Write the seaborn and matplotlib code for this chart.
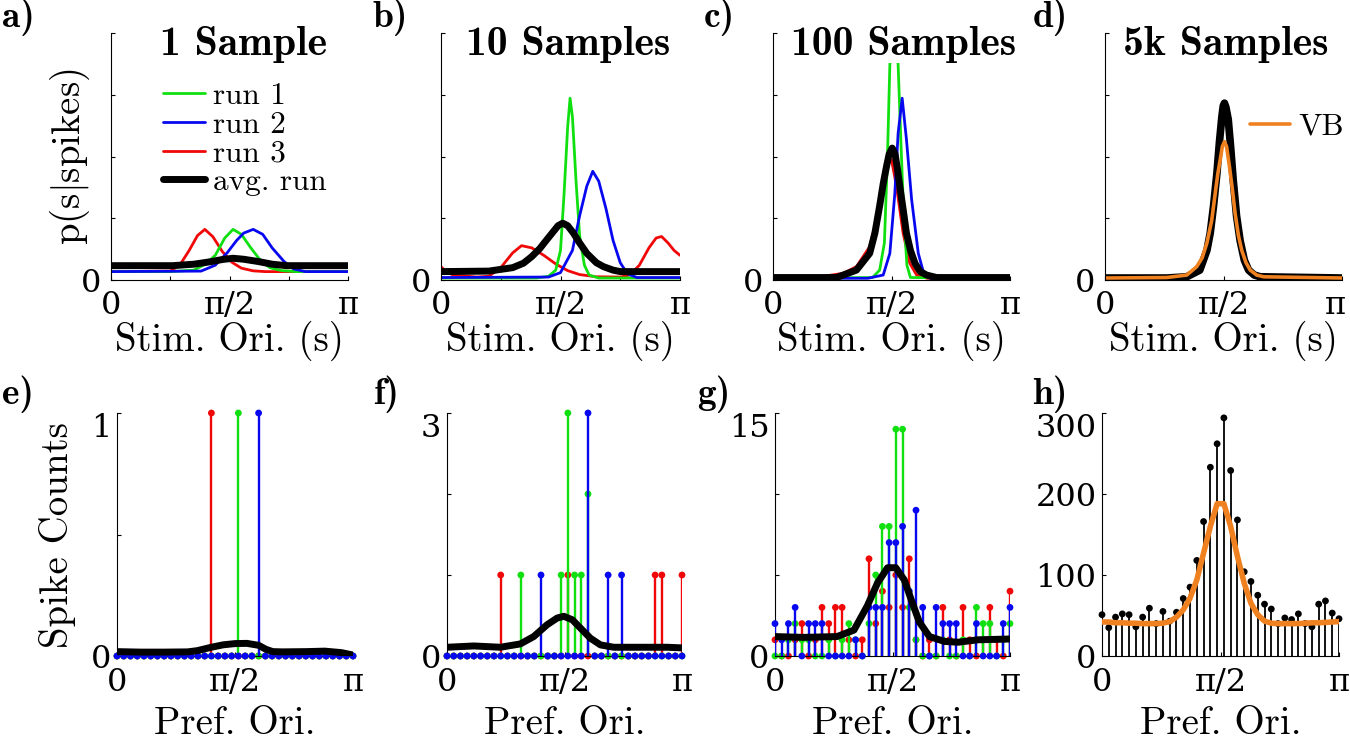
import numpy as np
import matplotlib as mpl
mpl.use('Agg')
import matplotlib.pyplot as plt
from matplotlib.lines import Line2D
from matplotlib.transforms import ScaledTranslation
import seaborn as sns

# ---------------- data ----------------
# top row: posterior p(s|spikes); x in units of pi, y as fraction of axis height
a_green_x = [0, .25, .35, .40, .44, .48, .515, .55, .59, .63, .67, .72, .78, 1.0]
a_green_y = [.034, .034, .04, .065, .10, .17, .205, .185, .13, .08, .05, .038, .034, .034]
a_blue_x = [0, .38, .44, .49, .53, .56, .60, .64, .68, .73, .77, .82, 1.0]
a_blue_y = [.034, .036, .06, .11, .16, .19, .205, .185, .13, .075, .045, .034, .034]
a_red_x = [0, .25, .29, .33, .365, .396, .43, .47, .51, .55, .60, .65, 1.0]
a_red_y = [.034, .036, .06, .12, .18, .205, .175, .115, .072, .048, .037, .034, .034]
a_avg_x = [0, .26, .35, .42, .47, .515, .56, .62, .68, .74, 1.0]
a_avg_y = [.058, .058, .064, .074, .083, .088, .084, .075, .064, .058, .058]

b_green_x = [0, .40, .45, .48, .50, .515, .53, .54, .55, .565, .58, .60, .62, .66, 1.0]
b_green_y = [.008, .008, .015, .04, .12, .35, .62, .736, .66, .40, .18, .06, .02, .008, .008]
b_blue_x = [0, .45, .50, .55, .58, .61, .635, .66, .69, .72, .75, .78, .82, 1.0]
b_blue_y = [.01, .012, .03, .12, .26, .38, .44, .40, .29, .16, .07, .025, .01, .01]
b_red_x = [0, .02, .05, .15, .20, .25, .30, .337, .38, .43, .48, .53, .58, .65, .75, .79,
           .83, .87, .90, .923, .95, .975, 1.0]
b_red_y = [.054, .035, .02, .012, .015, .05, .11, .139, .13, .10, .065, .038, .022, .013, .012, .02,
           .06, .13, .17, .176, .15, .12, .10]
b_avg_x = [0, .2, .3, .345, .38, .414, .44, .47, .49, .509, .53, .554, .58, .61, .65, .68, .72, .75, 1.0]
b_avg_y = [.034, .036, .05, .068, .095, .128, .16, .196, .22, .23, .22, .19, .15, .108, .07, .054, .04, .034, .034]

c_green_x = [0, .42, .45, .47, .483, .493, .51, .528, .54, .55, .565, .58, 1.0]
c_green_y = [.007, .01, .04, .15, .5, .87, 1.1, .87, .55, .3, .06, .01, .007]
c_blue_x = [0, .40, .465, .493, .514, .528, .545, .563, .585, .613, .634, .662, 1.0]
c_blue_y = [.007, .007, .02, .108, .35, .595, .736, .57, .325, .108, .034, .007, .007]
c_red_x = [0, .197, .296, .352, .408, .45, .486, .50, .521, .549, .577, .606, .65, 1.0]
c_red_y = [.007, .013, .027, .054, .135, .30, .47, .487, .38, .19, .068, .02, .007, .007]
c_avg_x = [0, .268, .352, .408, .43, .45, .465, .479, .49, .503, .515, .525, .535, .55, .563, .58,
           .599, .62, .648, .69, 1.0]
c_avg_y = [.01, .01, .04, .108, .19, .30, .39, .46, .51, .534, .51, .45, .38, .28, .19, .12,
           .068, .035, .02, .01, .01]

d_avg_x = [0, .26, .345, .40, .43, .444, .458, .472, .483, .493, .499, .504, .51, .52, .53, .541,
           .555, .57, .588, .606, .63, .655, 1.0]
d_avg_y = [.008, .008, .013, .04, .12, .19, .30, .43, .56, .66, .705, .716, .70, .65, .54, .405,
           .26, .16, .08, .04, .02, .013, .008]
d_vb_x = [0, .26, .345, .387, .41, .43, .45, .465, .476, .486, .495, .504, .513, .525, .537, .549,
          .563, .577, .595, .613, .64, .67, 1.0]
d_vb_y = [.008, .01, .02, .054, .09, .15, .24, .35, .43, .486, .54, .56, .54, .46, .37, .27,
          .18, .12, .07, .04, .02, .013, .008]

# bottom row: spike counts of 36 neurons (preferred orientations 0..pi)
n_neurons = 36
e_red = [0, 0, 0, 0, 0, 0, 0, 0, 0, 0, 0, 0, 0, 0, 1, 0, 0, 0, 0, 0, 0, 0, 0, 0, 0, 0, 0, 0, 0, 0, 0, 0, 0, 0, 0, 0]
e_green = [0, 0, 0, 0, 0, 0, 0, 0, 0, 0, 0, 0, 0, 0, 0, 0, 0, 0, 1, 0, 0, 0, 0, 0, 0, 0, 0, 0, 0, 0, 0, 0, 0, 0, 0, 0]
e_blue = [0, 0, 0, 0, 0, 0, 0, 0, 0, 0, 0, 0, 0, 0, 0, 0, 0, 0, 0, 0, 0, 1, 0, 0, 0, 0, 0, 0, 0, 0, 0, 0, 0, 0, 0, 0]
e_avg_x = [0, .1, .2, .3, .34, .4, .45, .5, .55, .6, .63, .66, .7, .8, .88, .95, 1.0]
e_avg_y = [.018, .016, .016, .017, .022, .036, .046, .051, .052, .044, .028, .018, .017, .018, .02, .014, .004]

f_red = [0, 0, 0, 0, 0, 0, 0, 0, 1, 0, 0, 0, 0, 0, 0, 0, 0, 0, 1, 0, 0, 0, 0, 0, 0, 0, 0, 0, 0, 0, 0, 1, 1, 0, 0, 1]
f_green = [0, 0, 0, 0, 0, 0, 0, 0, 0, 0, 0, 1, 0, 0, 0, 0, 0, 1, 3, 1, 1, 2, 0, 0, 0, 0, 0, 0, 0, 0, 0, 0, 0, 0, 0, 0]
f_blue = [0, 0, 0, 0, 0, 0, 0, 0, 0, 0, 0, 0, 0, 0, 1, 0, 0, 0, 0, 0, 0, 3, 0, 0, 1, 0, 1, 0, 0, 0, 0, 0, 0, 0, 0, 0]
f_avg_x = [0, .114, .227, .312, .369, .426, .469, .497, .533, .568, .61, .653, .71, .824, .937, 1.0]
f_avg_y = [.108, .124, .108, .149, .24, .386, .469, .49, .448, .344, .22, .137, .108, .108, .108, .10]

g_red = [1, 0, 0, 1, 2, 0, 1, 3, 2, 3, 3, 1, 0, 1, 6, 2, 4, 3, 5, 3, 6, 1, 0, 1, 0, 3, 1, 0, 3, 1, 0, 1, 3, 1, 0, 4]
g_green = [0, 0, 1, 2, 1, 1, 0, 0, 1, 0, 1, 2, 1, 0, 2, 5, 8, 8, 14, 14, 3, 1, 0, 0, 0, 1, 0, 0, 1, 0, 3, 2, 2, 0, 1, 2]
g_blue = [2, 1, 2, 3, 0, 2, 2, 2, 0, 0, 0, 0, 1, 0, 3, 3, 3, 7, 7, 8, 4, 9, 3, 0, 3, 2, 2, 2, 0, 0, 2, 0, 0, 0, 2, 3]
g_avg_x = [0, .121, .264, .336, .393, .436, .479, .514, .55, .579, .614, .657, .721, .779, .864, 1.0]
g_avg_y = [1.2, 1.15, 1.2, 1.6, 3.1, 4.5, 5.45, 5.45, 4.7, 3.5, 2.1, 1.2, .9, .85, 1.0, 1.05]

h_counts = [51, 35, 48, 52, 51, 36, 48, 59, 40, 55, 43, 54, 71, 85, 118, 166, 233, 262, 294, 229, 168, 104,
            92, 75, 64, 58, 40, 47, 45, 52, 40, 36, 64, 68, 53, 46]
h_vb = [42, 42, 41, 41, 40.5, 40.5, 40, 40, 40, 40.5, 42.5, 48, 57, 71.5, 94, 127, 160, 188, 188, 160, 123, 90,
        65, 51, 43, 40.5, 40, 40, 40, 40, 40.5, 41, 41, 41.5, 42, 42.5]

titles = ['1 Sample', '10 Samples', '100 Samples', '5k Samples']
top_labels = ['a)', 'b)', 'c)', 'd)']
bottom_labels = ['e)', 'f)', 'g)', 'h)']

GREEN = '#10e010'
BLUE = '#0808f0'
RED = '#f00808'
ORANGE = '#ef8120'

# ---------------- style ----------------
sns.set_style('ticks')
plt.rcParams['font.family'] = ['DejaVu Serif']
plt.rcParams['mathtext.fontset'] = 'cm'
plt.rcParams['axes.unicode_minus'] = False
plt.rcParams['axes.linewidth'] = 0.8
plt.rcParams['axes.edgecolor'] = 'black'
plt.rcParams['axes.labelcolor'] = 'black'
plt.rcParams['text.color'] = 'black'
plt.rcParams['xtick.direction'] = 'in'
plt.rcParams['ytick.direction'] = 'in'
plt.rcParams['xtick.major.size'] = 3
plt.rcParams['ytick.major.size'] = 3
plt.rcParams['xtick.major.width'] = 0.8
plt.rcParams['ytick.major.width'] = 0.8
plt.rcParams['xtick.color'] = 'black'
plt.rcParams['ytick.color'] = 'black'
plt.rcParams['xtick.labelcolor'] = 'black'
plt.rcParams['ytick.labelcolor'] = 'black'

W, H = 1350, 742
fig = plt.figure(figsize=(W / 100, H / 100), dpi=100)


def rect(l, t, r, b):
    return [l / W, 1 - b / H, (r - l) / W, (b - t) / H]


TICK_FS = 23
LABEL_FS = 28
TITLE_FS = 30
ROMAN = ['cmr10', 'DejaVu Serif']
BOLD = ['cmb10', 'DejaVu Serif']


def line(ax, xs, ys, color, lw):
    sns.lineplot(x=np.pi * np.asarray(xs), y=ys, color=color, lw=lw, ax=ax,
                 sort=False, estimator=None, legend=False, solid_joinstyle='round')


def style_top(ax):
    sns.despine(ax=ax)
    ax.set_xlim(0, np.pi)
    ax.set_ylim(0, 1)
    ax.set_xticks([0, np.pi / 4, np.pi / 2, 3 * np.pi / 4, np.pi])
    ax.set_xticklabels(['0', '', 'π/2', '', 'π'])
    ax.set_yticks([0, .25, .5, .75, 1])
    ax.set_yticklabels(['0', '', '', '', ''])
    ax.tick_params(labelsize=TICK_FS, pad=7)
    ax.set_xlabel('Stim. Ori. (s)', fontsize=LABEL_FS, va='baseline', family=ROMAN)
    ax.xaxis.set_label_coords(0.5, -0.285)


def style_bottom(ax, top, yticks, ylabels):
    sns.despine(ax=ax)
    ax.set_xlim(0, np.pi)
    ax.set_ylim(0, top)
    ax.set_xticks([0, np.pi / 2, np.pi])
    ax.set_xticklabels(['0', 'π/2', 'π'])
    ax.set_yticks(yticks)
    labels = ax.set_yticklabels(ylabels)
    labels[-1].set_va('top')
    ax.tick_params(labelsize=TICK_FS, pad=8)
    ax.tick_params(axis='y', pad=4)
    ax.set_xlabel('Pref. Ori.', fontsize=LABEL_FS, va='baseline', family=ROMAN)
    ax.xaxis.set_label_coords(0.5, -0.321)


def stems(ax, counts, color, z, lw=1.7, s=24):
    x = np.linspace(0, np.pi, n_neurons)
    ax.vlines(x, 0, counts, colors=color, lw=lw, zorder=z)
    sns.scatterplot(x=x, y=counts, color=color, s=s, edgecolor='none', ax=ax,
                    zorder=z + 0.1, clip_on=False, legend=False)


# ---------------- top row ----------------
top_rects = [rect(111, 33, 348, 280), rect(441, 33, 680, 280),
             rect(773, 33, 1010, 280), rect(1105, 33, 1342, 280)]
top_axes = [fig.add_axes(r) for r in top_rects]
ax_a, ax_b, ax_c, ax_d = top_axes

for ax, (gx, gy, bx, by, rx, ry, mx, my) in zip(
        [ax_a, ax_b, ax_c],
        [(a_green_x, a_green_y, a_blue_x, a_blue_y, a_red_x, a_red_y, a_avg_x, a_avg_y),
         (b_green_x, b_green_y, b_blue_x, b_blue_y, b_red_x, b_red_y, b_avg_x, b_avg_y),
         (c_green_x, c_green_y, c_blue_x, c_blue_y, c_red_x, c_red_y, c_avg_x, c_avg_y)]):
    line(ax, rx, ry, RED, 2.0)
    line(ax, gx, gy, GREEN, 2.0)
    line(ax, bx, by, BLUE, 2.0)
    line(ax, mx, my, 'black', 5)

line(ax_d, d_avg_x, d_avg_y, 'black', 5.5)
line(ax_d, d_vb_x, d_vb_y, ORANGE, 2.6)

title_x = [0.557, 0.531, 0.553, 0.51]
for ax, t, tx in zip(top_axes, titles, title_x):
    style_top(ax)
    ax.text(tx, 0.91, t, transform=ax.transAxes, ha='center', va='baseline',
            fontsize=TITLE_FS, family=BOLD, zorder=10,
            bbox=dict(facecolor='white', edgecolor='none', pad=0))

# keep the right-most tick label of panel d inside the figure
pi_lab = ax_d.get_xticklabels()[-1]
pi_lab.set_transform(pi_lab.get_transform() + ScaledTranslation(-5 / 72, 0, fig.dpi_scale_trans))

ax_a.set_ylabel(r'p(s$|$spikes)', fontsize=LABEL_FS, va='center', family=ROMAN)
ax_a.yaxis.set_label_coords(-0.173, 0.5)

run_handles = [Line2D([], [], color=GREEN, lw=2.0), Line2D([], [], color=BLUE, lw=2.0),
               Line2D([], [], color=RED, lw=2.0), Line2D([], [], color='black', lw=5)]
ax_a.legend(run_handles, ['run 1', 'run 2', 'run 3', 'avg. run'], loc='upper left',
            bbox_to_anchor=(0.22, 0.80), frameon=False, prop={'family': ROMAN, 'size': 22.5},
            handlelength=1.35, handletextpad=0.26, labelspacing=0.02, borderpad=0, borderaxespad=0)
ax_d.legend([Line2D([], [], color=ORANGE, lw=2.6)], ['VB'], loc='center left',
            bbox_to_anchor=(0.61, 0.62), frameon=False, prop={'family': ROMAN, 'size': 22.5},
            handlelength=1.3, handletextpad=0.26, borderpad=0, borderaxespad=0)

# ---------------- bottom row ----------------
bot_rects = [rect(117, 413, 353, 656), rect(447, 413, 682, 656),
             rect(775, 413, 1010, 656), rect(1102, 413, 1339, 656)]
ax_e, ax_f, ax_g, ax_h = [fig.add_axes(r) for r in bot_rects]

for ax, (r, g, b), (mx, my) in zip(
        [ax_e, ax_f, ax_g],
        [(e_red, e_green, e_blue), (f_red, f_green, f_blue), (g_red, g_green, g_blue)],
        [(e_avg_x, e_avg_y), (f_avg_x, f_avg_y), (g_avg_x, g_avg_y)]):
    stems(ax, r, RED, 2.0)
    stems(ax, g, GREEN, 2.3)
    stems(ax, b, BLUE, 2.6)
    sns.lineplot(x=np.pi * np.asarray(mx), y=my, color='black', lw=5, ax=ax,
                 sort=False, estimator=None, legend=False, zorder=5)

stems(ax_h, h_counts, 'black', 2.0, lw=1.3, s=24)
sns.lineplot(x=np.linspace(0, np.pi, n_neurons), y=h_vb, color=ORANGE, lw=4, ax=ax_h,
             sort=False, estimator=None, legend=False, zorder=5)

style_bottom(ax_e, 1, [0, .5, 1], ['0', '', '1'])
style_bottom(ax_f, 3, [0, 1, 2, 3], ['0', '', '', '3'])
style_bottom(ax_g, 15, [0, 5, 10, 15], ['0', '', '', '15'])
style_bottom(ax_h, 300, [0, 100, 200, 300], ['0', '100', '200', '300'])

ax_e.set_ylabel('Spike Counts', fontsize=LABEL_FS, va='center', family=ROMAN)
ax_e.yaxis.set_label_coords(-0.25, 0.5)

# ---------------- panel letters ----------------
for lab, px in zip(top_labels, [2, 372, 704, 1033]):
    fig.text(px / W, 1 - 27 / H, lab, fontsize=27, family=BOLD, ha='left', va='baseline')
for lab, px in zip(bottom_labels, [2, 373, 697, 1032]):
    fig.text(px / W, 1 - 404 / H, lab, fontsize=27, family=BOLD, ha='left', va='baseline')

fig.savefig('out.png', dpi=100)
